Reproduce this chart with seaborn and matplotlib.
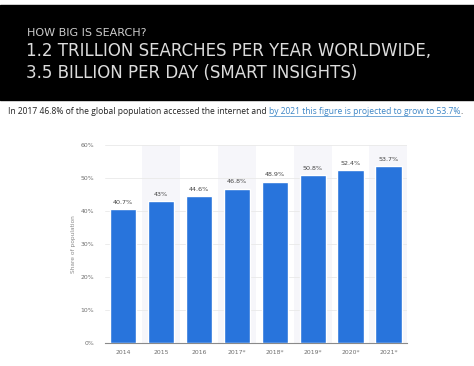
import matplotlib
matplotlib.use("Agg")
import matplotlib.pyplot as plt
import seaborn as sns
import pandas as pd

# data
years = ["2014", "2015", "2016", "2017*", "2018*", "2019*", "2020*", "2021*"]
share = [40.7, 43.0, 44.6, 46.8, 48.9, 50.8, 52.4, 53.7]
value_labels = ["40.7%", "43%", "44.6%", "46.8%", "48.9%", "50.8%", "52.4%", "53.7%"]
y_ticks = [0, 10, 20, 30, 40, 50, 60]

kicker = "HOW BIG IS SEARCH?"
headline = ["1.2 TRILLION SEARCHES PER YEAR WORLDWIDE,",
            "3.5 BILLION PER DAY (SMART INSIGHTS)"]
intro = "In 2017 46.8% of the global population accessed the internet and "
intro_link = "by 2021 this figure is projected to grow to 53.7%"

df = pd.DataFrame({"year": years, "share": share})

sns.set_theme(style="white")
plt.rcParams["font.family"] = ["DejaVu Sans"]

W, H = 474, 366
fig = plt.figure(figsize=(W / 100, H / 100), dpi=100)
fig.patch.set_facecolor("white")

# black banner
fig.patches.append(plt.Rectangle((0, 1 - 100 / H), 1, 95 / H, transform=fig.transFigure,
                                 color="black", zorder=0))
fig.text(27 / W, 1 - 33 / H, kicker, color="#cccccc", fontsize=8.0, va="center")
fig.text(26 / W, 1 - 51 / H, headline[0], color="#dcdcdc", fontsize=12.0, va="center")
fig.text(26 / W, 1 - 73 / H, headline[1], color="#dcdcdc", fontsize=12.0, va="center")

# intro sentence with a link-styled tail
fam = ["Open Sans", "DejaVu Sans"]
base_y = 1 - 114 / H
fs = 6.15
t1 = fig.text(8 / W, base_y, intro, color="#222222", fontsize=fs, va="baseline", family=fam)
t2 = fig.text(0, base_y, intro_link, color="#3d86c6", fontsize=fs, va="baseline", family=fam)
fig.canvas.draw()
r = fig.canvas.get_renderer()
b1 = t1.get_window_extent(r)
t2.set_position((b1.x1 / W, base_y))
b2 = t2.get_window_extent(r)
fig.text(b2.x1 / W, base_y, ".", color="#222222", fontsize=fs, va="baseline", family=fam)
fig.lines.append(plt.Line2D([b2.x0 / W, b2.x1 / W], [1 - 116 / H] * 2,
                            transform=fig.transFigure, color="#3d86c6", lw=0.5))

# bar chart
ax = fig.add_axes([105 / W, 1 - 343 / H, 302 / W, 198 / H])
for i in range(1, len(years), 2):
    ax.axvspan(i - 0.5, i + 0.5, color="#f6f6fa", zorder=0, lw=0)
sns.barplot(data=df, x="year", y="share", color="#2874dc", saturation=1, width=0.69,
            ax=ax, zorder=3)
ax.set_xlim(-0.48, 7.49)
ax.set_ylim(0, 60)
ax.set_yticks(y_ticks)
ax.set_yticklabels([f"{v}%" for v in y_ticks])
ax.yaxis.grid(True, color="#e9e9e9", lw=0.6)
ax.set_axisbelow(True)
for s in ["top", "right", "left"]:
    ax.spines[s].set_visible(False)
ax.spines["bottom"].set_color("#8a8a8a")
ax.spines["bottom"].set_linewidth(0.8)
ax.set_facecolor("none")
ax.tick_params(axis="both", length=0, labelsize=4.4, labelcolor="#6e6e6e")
ax.tick_params(axis="y", pad=8)
ax.tick_params(axis="x", pad=5)
ax.set_xlabel("")
ax.set_ylabel("Share of population", fontsize=4.2, color="#8a8a8a", labelpad=3)
ax.bar_label(ax.containers[0], labels=value_labels, padding=3, fontsize=4.6,
             color="#444444")

fig.savefig("out.png", dpi=100)
